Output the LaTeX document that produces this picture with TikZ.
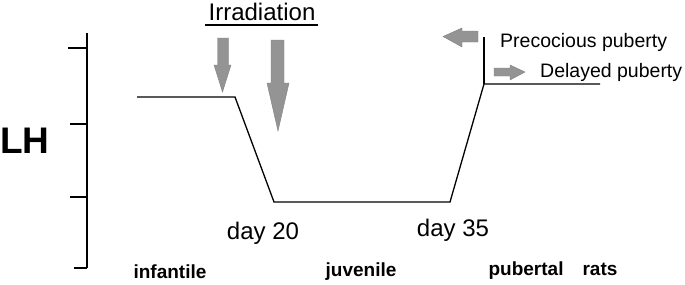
\documentclass[tikz,border=0pt]{standalone}
\usepackage{fontspec}
\setmainfont{Liberation Sans}
\begin{document}
\begin{tikzpicture}[x=1pt,y=-1pt,
  ln/.style={line width=1.3pt,black},
  garrow/.style={fill=black!42,draw=black!50,line width=0.4pt},
  lbl/.style={inner sep=0pt,anchor=center},
  dlbl/.style={lbl,font=\fontsize{24}{27}\selectfont},
  blbl/.style={lbl,font=\fontsize{19}{22}\selectfont\bfseries},
  slbl/.style={lbl,anchor=west,font=\fontsize{19.5}{22}\selectfont}]
\useasboundingbox (0,0) rectangle (685,284);
% axis
\coordinate (at) at (87,33);
\coordinate (ab) at (87,268);
\draw[ln] (at) -- (ab);
\foreach \y/\x in {48/68,124/70,197/70,268/74}{
  \draw[ln] (\x,\y) -- (87,\y);
}
% curve
\coordinate (c1) at (137,97);
\coordinate (c2) at (235,97);
\coordinate (c3) at (274,202);
\coordinate (c4) at (450,202);
\coordinate (c5) at (484,84);
\coordinate (c6) at (600,84);
\coordinate (v1) at (484,37);
\draw[ln] (c1) -- (c2) -- (c3) -- (c4) -- (c5) -- (c6);
\draw[ln] (v1) -- (c5);
% arrows
\filldraw[garrow] (217.5,38) -- (228.5,38) -- (228.5,65) -- (231,65) -- (222.5,92) -- (214,65) -- (217.5,65) -- cycle;
\filldraw[garrow] (271,40) -- (284,40) -- (284,83) -- (289,83) -- (278,131) -- (267,83) -- (271,83) -- cycle;
\filldraw[garrow] (478,31) -- (478,42) -- (462,42) -- (462,47) -- (443,36.5) -- (462,28) -- (462,31) -- cycle;
\filldraw[garrow] (494,68) -- (510,68) -- (510,65) -- (525,72) -- (510,80) -- (510,76) -- (494,76) -- cycle;
% texts
\node[lbl,font=\fontsize{24}{27}\selectfont] (irr) at (262,12) {Irradiation};
\coordinate (ul1) at (205,25);
\coordinate (ul2) at (318,25);
\draw[line width=1.4pt] (ul1) -- (ul2);
\node[lbl,font=\fontsize{37}{40}\selectfont\bfseries] (lh) at (25,141) {LH};
\node[slbl] (prec) at (500,42) {Precocious puberty};
\node[slbl] (del) at (540,72) {Delayed puberty};
\node[dlbl] (d20) at (263,233) {day 20};
\node[dlbl] (d35) at (453,230) {day 35};
\node[blbl] (inf) at (170,272) {infantile};
\node[blbl] (juv) at (361,272) {juvenile};
\node[blbl] (pub) at (553,271) {pubertal\hspace{1em}rats};
\end{tikzpicture}
\end{document}
